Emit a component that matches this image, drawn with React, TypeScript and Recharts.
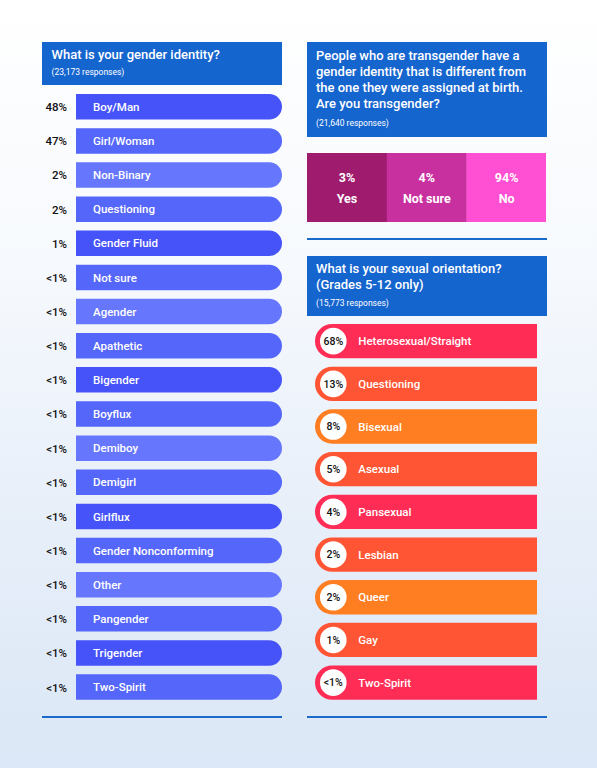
import React from "react";
import { BarChart, Bar, XAxis, YAxis, Rectangle } from "recharts";

// ---- data ----
const genderNames = [
  "Boy/Man", "Girl/Woman", "Non-Binary", "Questioning", "Gender Fluid", "Not sure",
  "Agender", "Apathetic", "Bigender", "Boyflux", "Demiboy", "Demigirl", "Girlflux",
  "Gender Nonconforming", "Other", "Pangender", "Trigender", "Two-Spirit",
];
const genderPctLabels = [
  "48%", "47%", "2%", "2%", "1%", "<1%", "<1%", "<1%", "<1%", "<1%", "<1%", "<1%",
  "<1%", "<1%", "<1%", "<1%", "<1%", "<1%",
];
const genderValues = [48, 47, 2, 2, 1, 0.5, 0.5, 0.5, 0.5, 0.5, 0.5, 0.5, 0.5, 0.5, 0.5, 0.5, 0.5, 0.5];

const transNames = ["Yes", "Not sure", "No"];
const transPctLabels = ["3%", "4%", "94%"];
const transValues = [3, 4, 94];

const orientNames = [
  "Heterosexual/Straight", "Questioning", "Bisexual", "Asexual", "Pansexual",
  "Lesbian", "Queer", "Gay", "Two-Spirit",
];
const orientPctLabels = ["68%", "13%", "8%", "5%", "4%", "2%", "2%", "1%", "<1%"];
const orientValues = [68, 13, 8, 5, 4, 2, 2, 1, 0.5];

// ---- styles ----
const FONT = "Roboto, 'Noto Sans', Arial, sans-serif";
const HEADER_BLUE = "#1565CF";
const bluePalette = ["#4653F8", "#5566FA", "#6677FD", "#5566FA"];
const transPalette = ["#9E1B6E", "#C8309F", "#FF4FD2"];
const orientPalette = ["#FF2D55", "#FF5534", "#FF7E22", "#FF5534"];

const genderData = genderNames.map((name, i) => ({ name, pct: genderPctLabels[i], value: genderValues[i] }));
const transData = transNames.map((name, i) => ({ name, pct: transPctLabels[i], value: transValues[i] }));
const orientData = orientNames.map((name, i) => ({ name, pct: orientPctLabels[i], value: orientValues[i] }));

const GenderBg = (p: any) => {
  const { x, y, width, height, index, payload } = p;
  const r = height / 2;
  return (
    <g>
      <Rectangle x={x} y={y} width={width} height={height} radius={[0, r, r, 0]} fill={bluePalette[index % 4]} />
      <text x={x + 17} y={y + height / 2} dy="0.36em" fill="#ffffff" fontFamily={FONT} fontSize={11.5} fontWeight={500}>
        {payload.name}
      </text>
    </g>
  );
};

const GenderTick = (p: any) => {
  const idx = p.payload?.index ?? p.index;
  return (
    <text x={p.x - 1} y={p.y} dy="0.36em" textAnchor="end" fill="#111" fontFamily={FONT} fontSize={11.5} fontWeight={500}>
      {genderPctLabels[idx]}
    </text>
  );
};

const TransBg = (p: any) => {
  const { x, y, width, height, index, payload } = p;
  return (
    <g>
      <rect x={x} y={y} width={width} height={height} fill={transPalette[index % 3]} />
      <text x={x + width / 2} y={y + 24} dy="0.36em" textAnchor="middle" fill="#fff" fontFamily={FONT} fontSize={12.5} fontWeight={700}>
        {payload.pct}
      </text>
      <text x={x + width / 2} y={y + 45.5} dy="0.36em" textAnchor="middle" fill="#fff" fontFamily={FONT} fontSize={12.5} fontWeight={700}>
        {payload.name}
      </text>
    </g>
  );
};

const OrientBg = (p: any) => {
  const { x, y, width, height, index, payload } = p;
  const r = height / 2;
  const cy = y + height / 2;
  return (
    <g>
      <Rectangle x={x} y={y} width={width} height={height} radius={[r, 0, 0, r]} fill={orientPalette[index % 4]} />
      <circle cx={x + 18.3} cy={cy} r={13.3} fill="#ffffff" />
      <text x={x + 18.3} y={cy} dy="0.36em" textAnchor="middle" fill="#111" fontFamily={FONT} fontSize={10.5} fontWeight={500}>
        {payload.pct}
      </text>
      <text x={x + 43.3} y={cy} dy="0.36em" fill="#fff" fontFamily={FONT} fontSize={11.5} fontWeight={500}>
        {payload.name}
      </text>
    </g>
  );
};

const headerBox: React.CSSProperties = {
  position: "absolute",
  background: HEADER_BLUE,
  color: "#fff",
  fontFamily: FONT,
  boxSizing: "border-box",
  paddingLeft: 9,
};
const line = (left: number, top: number, width: number): React.CSSProperties => ({
  position: "absolute",
  left,
  top,
  width,
  height: 2,
  background: "#1A6AC9",
});

export default function App() {
  return (
    <div
      style={{
        position: "absolute",
        left: 0,
        top: 0,
        width: 597,
        height: 768,
        overflow: "hidden",
        background: "linear-gradient(to bottom, #ffffff 0%, #f6f9fd 35%, #e6eef9 70%, #dbe7f6 100%)",
        fontFamily: FONT,
      }}
    >
      {/* Left header */}
      <div style={{ ...headerBox, left: 42, top: 42, width: 240, height: 43 }}>
        <div style={{ position: "absolute", left: 9.5, top: 5, fontSize: 13, fontWeight: 500, lineHeight: "16px", whiteSpace: "nowrap" }}>
          What is your gender identity?
        </div>
        <div style={{ position: "absolute", left: 9.5, top: 25, fontSize: 8.5, lineHeight: "10px", whiteSpace: "nowrap" }}>
          (23,173 responses)
        </div>
      </div>

      {/* Left bars */}
      <div style={{ position: "absolute", left: 42, top: 89.6 }}>
        <BarChart
          layout="vertical"
          width={240}
          height={614.5}
          data={genderData}
          margin={{ top: 0, right: 0, bottom: 0, left: 0 }}
          barSize={25.5}
        >
          <XAxis type="number" domain={[0, 100]} hide />
          <YAxis type="category" dataKey="name" width={34} axisLine={false} tickLine={false} tick={<GenderTick />} interval={0} />
          <Bar dataKey="value" fill="transparent" background={<GenderBg />} isAnimationActive={false} />
        </BarChart>
      </div>
      <div style={line(42, 716, 240)} />

      {/* Right header 1 */}
      <div style={{ ...headerBox, left: 306.5, top: 42, width: 240, height: 94.5 }}>
        <div style={{ position: "absolute", left: 9.5, top: 6, fontSize: 13, fontWeight: 500, lineHeight: "16px", whiteSpace: "nowrap" }}>
          People who are transgender have a<br />
          gender identity that is different from<br />
          the one they were assigned at birth.<br />
          Are you transgender?
        </div>
        <div style={{ position: "absolute", left: 9.5, top: 76, fontSize: 8.5, lineHeight: "10px", whiteSpace: "nowrap" }}>
          (21,640 responses)
        </div>
      </div>

      {/* Transgender strip */}
      <div style={{ position: "absolute", left: 306.5, top: 153.3 }}>
        <BarChart
          width={239.5}
          height={69}
          data={transData}
          margin={{ top: 0, right: 0, bottom: 0, left: 0 }}
          barCategoryGap={0}
        >
          <XAxis dataKey="name" hide />
          <YAxis type="number" domain={[0, 100]} hide />
          <Bar dataKey="value" fill="transparent" background={<TransBg />} isAnimationActive={false} />
        </BarChart>
      </div>
      <div style={line(306.5, 238, 240)} />

      {/* Right header 2 */}
      <div style={{ ...headerBox, left: 306.5, top: 256, width: 240, height: 60 }}>
        <div style={{ position: "absolute", left: 9.5, top: 4.5, fontSize: 13, fontWeight: 500, lineHeight: "16px", whiteSpace: "nowrap" }}>
          What is your sexual orientation?<br />
          (Grades 5-12 only)
        </div>
        <div style={{ position: "absolute", left: 9.5, top: 42, fontSize: 8.5, lineHeight: "10px", whiteSpace: "nowrap" }}>
          (15,773 responses)
        </div>
      </div>

      {/* Orientation bars */}
      <div style={{ position: "absolute", left: 315, top: 319.9 }}>
        <BarChart
          layout="vertical"
          width={222.3}
          height={384.2}
          data={orientData}
          margin={{ top: 0, right: 0, bottom: 0, left: 0 }}
          barSize={34.3}
        >
          <XAxis type="number" domain={[0, 100]} hide />
          <YAxis type="category" dataKey="name" hide />
          <Bar dataKey="value" fill="transparent" background={<OrientBg />} isAnimationActive={false} />
        </BarChart>
      </div>
      <div style={line(306.5, 716, 240)} />
    </div>
  );
}
